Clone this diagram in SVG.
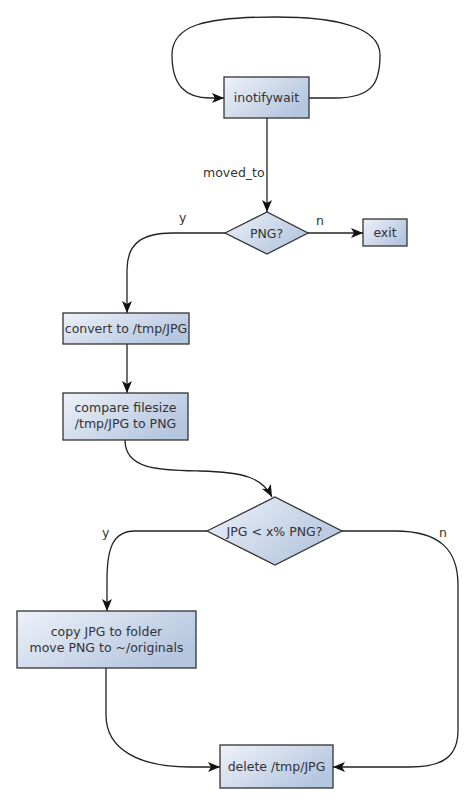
<svg xmlns="http://www.w3.org/2000/svg" width="474" height="804" viewBox="0 0 474 804">
<style>
.n rect, .n polygon { fill: url(#g); stroke: #333; stroke-width: 1.3; }
.t { font-family: "DejaVu Sans", sans-serif; font-size: 12.5px; fill: #333; text-anchor: middle; }
.c path { fill: none; stroke: #222; stroke-width: 1.3; }
.l { font-family: "DejaVu Sans", sans-serif; font-size: 12.5px; fill: #333; }
</style>
<defs>
<linearGradient id="g" x1="0" y1="0" x2="1" y2="0.6">
<stop offset="0" stop-color="#eef2f9"/>
<stop offset="1" stop-color="#b5c6df"/>
</linearGradient>
<marker id="a" viewBox="0 0 12 10" markerWidth="12" markerHeight="10" refX="12" refY="5" orient="auto" markerUnits="userSpaceOnUse">
<path d="M0,0 L12,5 L0,10 L3,5 Z" fill="#111"/>
</marker>
</defs>
<rect width="474" height="804" fill="#fff"/>
<g class="c" id="connectors">
<path d="M309,98 L335,98 C375,98 380,80 380,55 C380,25 330,17 275,17 C205,17 172,25 172,55 C172,85 185,98 210,98 L224,98" marker-end="url(#a)"/>
<path d="M267,118 L267,212" marker-end="url(#a)"/>
<path d="M308,233 L363,233" marker-end="url(#a)"/>
<path d="M225,233 L173,233 C140,233 127,245 127,270 L127,313" marker-end="url(#a)"/>
<path d="M127,344 L127,393" marker-end="url(#a)"/>
<path d="M125,440 C125,470 160,470 200,471 C245,472 262,478 272,497" marker-end="url(#a)"/>
<path d="M207,531 L135,531 C112,531 107,550 107,580 L107,611" marker-end="url(#a)"/>
<path d="M342,531 L395,531 C440,531 458,550 458,585 L458,730 C458,755 445,767 410,767 L333,767" marker-end="url(#a)"/>
<path d="M106,668 L106,715 C106,750 140,767 190,767 L220,767" marker-end="url(#a)"/>
</g>
<g class="l" id="labels">
<text x="203" y="177">moved_to</text>
<text x="179" y="222">y</text>
<text x="316" y="225">n</text>
<text x="102" y="537">y</text>
<text x="439" y="537">n</text>
</g>
<g class="n" id="inotifywait">
<rect x="224" y="77" width="85" height="41"/>
<text class="t" x="266.5" y="102">inotifywait</text>
</g>
<g class="n" id="png">
<polygon points="225,233 267,212 308,233 267,254"/>
<text class="t" x="266.5" y="237.5">PNG?</text>
</g>
<g class="n" id="exit">
<rect x="363" y="219" width="44" height="27"/>
<text class="t" x="385" y="237">exit</text>
</g>
<g class="n" id="convert">
<rect x="63" y="313" width="126" height="31"/>
<text class="t" x="126" y="333">convert to /tmp/JPG</text>
</g>
<g class="n" id="compare">
<rect x="63" y="393" width="125" height="47"/>
<text class="t" x="125.5" y="412">compare filesize</text>
<text class="t" x="125.5" y="428">/tmp/JPG to PNG</text>
</g>
<g class="n" id="jpgcmp">
<polygon points="207,531 275,497 342,531 275,565"/>
<text class="t" x="274.5" y="535.5">JPG &lt; x% PNG?</text>
</g>
<g class="n" id="copy">
<rect x="17" y="611" width="179" height="57"/>
<text class="t" x="106.5" y="636">copy JPG to folder</text>
<text class="t" x="106.5" y="652">move PNG to ~/originals</text>
</g>
<g class="n" id="delete">
<rect x="220" y="745" width="113" height="43"/>
<text class="t" x="276.5" y="771">delete /tmp/JPG</text>
</g>
</svg>
